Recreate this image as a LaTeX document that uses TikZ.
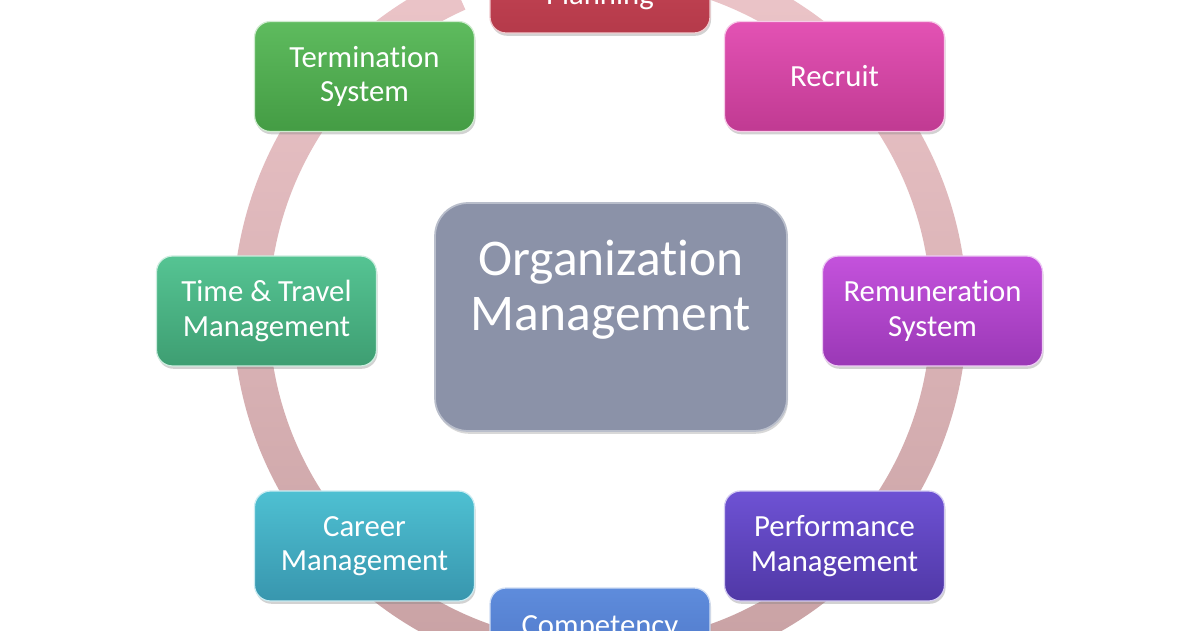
\documentclass[tikz,border=0pt]{standalone}
\usepackage{fontspec}
\setmainfont{Carlito}[Ligatures=NoCommon]
\usepackage{tikz}
\usetikzlibrary{shadows}
\definecolor{ringtop}{HTML}{EDC6CA}
\definecolor{ringbot}{HTML}{C59EA0}
\definecolor{slate}{HTML}{8B92A8}
\definecolor{plantop}{HTML}{CC4A5A}
\definecolor{planbot}{HTML}{B53A4A}
\definecolor{rectop}{HTML}{E352B4}
\definecolor{recbot}{HTML}{C03A92}
\definecolor{termtop}{HTML}{5EBB5E}
\definecolor{termbot}{HTML}{449C44}
\definecolor{timetop}{HTML}{55C493}
\definecolor{timebot}{HTML}{3E9E72}
\definecolor{remtop}{HTML}{C452DC}
\definecolor{rembot}{HTML}{9A38B6}
\definecolor{cartop}{HTML}{4EC0D2}
\definecolor{carbot}{HTML}{3896AE}
\definecolor{perftop}{HTML}{6E52D4}
\definecolor{perfbot}{HTML}{5038A6}
\definecolor{comptop}{HTML}{5E8CDC}
\definecolor{compbot}{HTML}{4A70C0}

\begin{document}
\begin{tikzpicture}[x=0.02cm, y=0.02cm,
            hrbox/.style 2 args={rounded corners=0.32cm, minimum width=4.4cm, minimum height=2.2cm,
                align=center, text=white, font=\fontsize{17.5}{19.5}\selectfont,
                top color=#1, bottom color=#2, draw=white!70!#1, line width=0.7pt,
                drop shadow={shadow xshift=0.6pt, shadow yshift=-1.6pt, opacity=0.35}},
            orgbox/.style={rounded corners=0.66cm, minimum width=7.04cm, minimum height=4.56cm,
                fill=slate, draw=slate!60!white, line width=1pt,
                drop shadow={shadow xshift=0.6pt, shadow yshift=-1.6pt, opacity=0.3}},
            orgtext/.style={align=center, text=white, font=\fontsize{29.3}{31.5}\selectfont}]
            \useasboundingbox (0, 0) rectangle (1200, 630);
            \fill[white](0, 0) rectangle (1200, 630);
            \begin{scope}[shift={(600, 318)}]
                \shade[top color=ringtop, bottom color=ringbot](114:367) arc[start angle=114, end angle=445, radius=367]
                    --(445:331) arc[start angle=445, end angle=114, radius=331]--cycle;
            \end{scope}
            \node[orgbox](org) at (611, 313){};
            \node[orgtext](orgname) at (611, 340){Organization\\Management};
            \node[hrbox={plantop}{planbot}](planning) at (600, 652){\strut\\Planning};
            \node[hrbox={rectop}{recbot}](recruit) at (834.5, 553.5){Recruit};
            \node[hrbox={termtop}{termbot}](termination) at (364.5, 553.5){Termination\\System};
            \node[hrbox={timetop}{timebot}](timetravel) at (266.5, 319){Time \& Travel\\Management};
            \node[hrbox={remtop}{rembot}](remuneration) at (932.5, 319){Remuneration\\System};
            \node[hrbox={cartop}{carbot}](career) at (364.5, 84){Career\\Management};
            \node[hrbox={perftop}{perfbot}](performance) at (834.5, 84){Performance\\Management};
            \node[hrbox={comptop}{compbot}](competency) at (600, -13){Competency\\[-5pt]\strut};
        \end{tikzpicture}
\end{document}
